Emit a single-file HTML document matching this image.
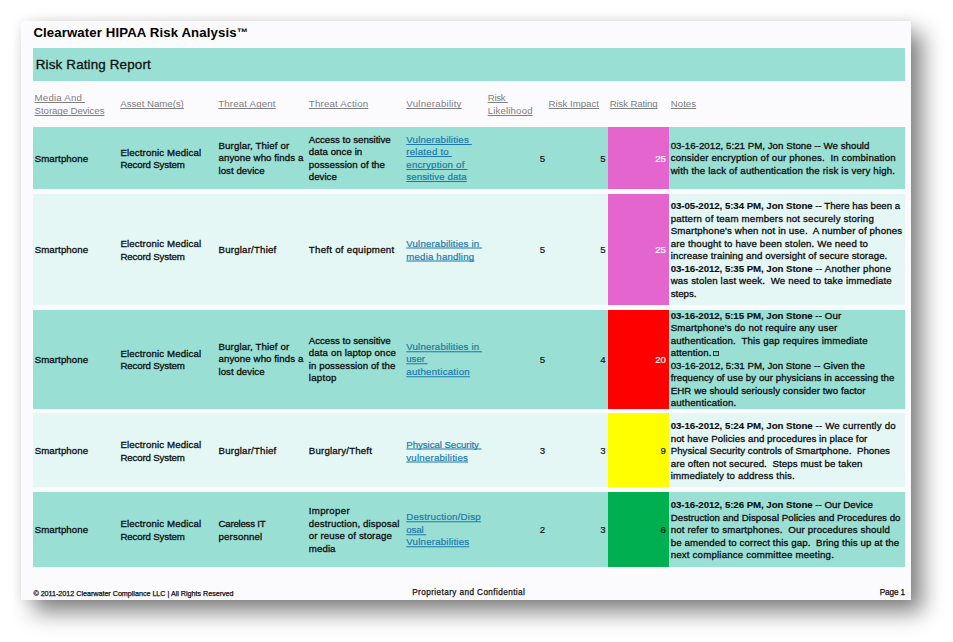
<!DOCTYPE html>
<html>
<head>
<meta charset="utf-8">
<title>Clearwater HIPAA Risk Analysis</title>
<style>
html,body{margin:0;padding:0;background:#fff;}
body{width:953px;height:642px;position:relative;overflow:hidden;font-family:"Liberation Sans",sans-serif;color:#0d0d0d;}
.abs{position:absolute;}
.ln{display:block;white-space:pre;}
#page{position:absolute;left:21.2px;top:20.5px;width:890px;height:579px;background:#fbfafd;box-shadow:11.5px 12px 21px rgba(0,0,0,.49), 0 0 10px rgba(0,0,0,.07);}
.title{left:33.4px;top:24.8px;font-size:13.2px;font-weight:bold;color:#000;line-height:15px;}
.banner{left:33.3px;top:48.3px;width:871.7px;height:32.6px;background:#9adfd4;}
.banner div{position:absolute;left:2.5px;top:8.6px;font-size:13.4px;line-height:16px;color:#101010;-webkit-text-stroke:0.3px #101010;}
.hd{font-size:9.7px;line-height:12.5px;color:#7f7f7f;}
.hd .ln{text-decoration:underline;text-decoration-skip-ink:none;text-underline-offset:1.0px;text-decoration-thickness:0.75px;}
.hd.h1{top:98.0px;}
.hd.h2{top:92.1px;}
.row{position:absolute;left:33.3px;width:871.7px;}
.row.d{background:#9adfd4;}
.row.l{background:#e4f7f5;}
.c{position:absolute;top:50%;margin-top:0.7px;transform:translateY(-50%);font-size:9.7px;line-height:12.5px;white-space:pre;color:#0d0d0d;-webkit-text-stroke:0.3px #0d0d0d;}
.c1{left:1.4px;}
.c2{left:87.1px;}
.c3{left:185.2px;}
.c4{left:275.5px;}
.c5{left:373.0px;}
.c5 a{color:#1b79ad;-webkit-text-stroke:0.2px #1b79ad;}
.c5 .ln{text-decoration:underline;text-decoration-skip-ink:none;text-underline-offset:1.4px;text-decoration-thickness:0.9px;}
.n1{right:359.9px;-webkit-text-stroke-width:0.15px;}
.n2{right:299.4px;-webkit-text-stroke-width:0.15px;}
.rate{position:absolute;left:574.5px;top:0;bottom:0;width:61.2px;}
.rate span{position:absolute;-webkit-text-stroke:0.2px currentColor;right:3.0px;top:50%;transform:translateY(-50%);margin-top:0.7px;font-size:9.7px;line-height:12.5px;}
.c9{left:637.4px;}
.tm{font-size:11px;letter-spacing:0;display:inline-block;vertical-align:top;margin-top:0.6px;}
b{font-weight:bold;-webkit-text-stroke:0.12px #0d0d0d;}
.qb{display:inline-block;width:4.2px;height:3.6px;border:0.7px solid #333;margin-left:1.2px;letter-spacing:0;vertical-align:baseline;box-sizing:content-box;font-size:4.4px;line-height:3.8px;text-align:center;font-style:normal;color:#444;-webkit-text-stroke:0;overflow:hidden;}
.foot{color:#111;line-height:10px;-webkit-text-stroke:0.25px #111;}
.copy{left:33.4px;top:588.6px;font-size:7.2px;}
.prop{left:412.2px;top:587.9px;font-size:8.2px;}
.pg{left:879.7px;top:588.0px;font-size:8.2px;}
</style>
</head>
<body>
<div id="page"></div>
<div class="abs title"><span class="ln" style="letter-spacing:0.123px">Clearwater HIPAA Risk Analysis<span class=tm>™</span></span></div>
<div class="abs banner"><div><span class="ln" style="letter-spacing:0.151px">Risk Rating Report</span></div></div>
<div class="abs hd h2" style="left:34.6px"><span class="ln" style="letter-spacing:0.192px">Media And </span><span class="ln" style="letter-spacing:-0.085px">Storage Devices</span></div>
<div class="abs hd h1" style="left:120.3px"><span class="ln" style="letter-spacing:-0.043px">Asset Name(s)</span></div>
<div class="abs hd h1" style="left:218.2px"><span class="ln" style="letter-spacing:0.168px">Threat Agent</span></div>
<div class="abs hd h1" style="left:308.8px"><span class="ln" style="letter-spacing:0.185px">Threat Action</span></div>
<div class="abs hd h1" style="left:406.3px"><span class="ln" style="letter-spacing:0.229px">Vulnerability</span></div>
<div class="abs hd h2" style="left:487.7px"><span class="ln" style="letter-spacing:-0.286px">Risk </span><span class="ln" style="letter-spacing:0.136px">Likelihood</span></div>
<div class="abs hd h1" style="left:548.6px"><span class="ln" style="letter-spacing:-0.019px">Risk Impact</span></div>
<div class="abs hd h1" style="left:609.8px"><span class="ln" style="letter-spacing:-0.176px">Risk Rating</span></div>
<div class="abs hd h1" style="left:670.8px"><span class="ln">Notes</span></div>
<div class="row d" style="top:127.3px;height:61.5px">
 <div class="c c1"><span class="ln" style="letter-spacing:0.072px">Smartphone</span></div>
 <div class="c c2"><span class="ln" style="letter-spacing:0.122px">Electronic Medical</span><span class="ln" style="letter-spacing:-0.148px">Record System</span></div>
 <div class="c c3"><span class="ln" style="letter-spacing:0.121px">Burglar, Thief or</span><span class="ln" style="letter-spacing:0.084px">anyone who finds a</span><span class="ln" style="letter-spacing:0.038px">lost device</span></div>
 <div class="c c4"><span class="ln" style="letter-spacing:-0.026px">Access to sensitive</span><span class="ln" style="letter-spacing:0.059px">data once in</span><span class="ln" style="letter-spacing:0.047px">possession of the</span><span class="ln">device</span></div>
 <div class="c c5"><a><span class="ln" style="letter-spacing:0.178px">Vulnerabilities </span><span class="ln" style="letter-spacing:0.228px">related to </span><span class="ln" style="letter-spacing:0.216px">encryption of </span><span class="ln" style="letter-spacing:0.082px">sensitive data</span></a></div>
 <div class="c n1">5</div><div class="c n2">5</div>
 <div class="rate" style="background:#e465ce;color:#fff"><span>25</span></div>
 <div class="c c9"><span class="ln" style="letter-spacing:0.031px">03-16-2012, 5:21 PM, Jon Stone -- We should</span><span class="ln" style="letter-spacing:0.161px">consider encryption of our phones.  In combination</span><span class="ln" style="letter-spacing:0.169px">with the lack of authentication the risk is very high.</span></div>
</div>
<div class="row l" style="top:193.5px;height:111.8px">
 <div class="c c1"><span class="ln" style="letter-spacing:0.072px">Smartphone</span></div>
 <div class="c c2"><span class="ln" style="letter-spacing:0.122px">Electronic Medical</span><span class="ln" style="letter-spacing:-0.148px">Record System</span></div>
 <div class="c c3"><span class="ln" style="letter-spacing:0.195px">Burglar/Thief</span></div>
 <div class="c c4"><span class="ln" style="letter-spacing:0.268px">Theft of equipment</span></div>
 <div class="c c5"><a><span class="ln" style="letter-spacing:0.154px">Vulnerabilities in </span><span class="ln" style="letter-spacing:0.163px">media handling</span></a></div>
 <div class="c n1">5</div><div class="c n2">5</div>
 <div class="rate" style="background:#e465ce;color:#fff"><span>25</span></div>
 <div class="c c9"><span class="ln"><b style="letter-spacing:-0.062px">03-05-2012, 5:34 PM, Jon Stone</b><span style="letter-spacing:-0.000px"> -- There has been a</span></span><span class="ln" style="letter-spacing:0.190px">pattern of team members not securely storing</span><span class="ln" style="letter-spacing:0.149px">Smartphone&#x27;s when not in use.  A number of phones</span><span class="ln" style="letter-spacing:0.150px">are thought to have been stolen. We need to</span><span class="ln" style="letter-spacing:0.091px">increase training and oversight of secure storage.</span><span class="ln"><b style="letter-spacing:-0.062px">03-16-2012, 5:35 PM, Jon Stone</b><span style="letter-spacing:0.213px"> -- Another phone</span></span><span class="ln" style="letter-spacing:0.134px">was stolen last week.  We need to take immediate</span><span class="ln" style="letter-spacing:-0.027px">steps.</span></div>
</div>
<div class="row d" style="top:309.8px;height:98.8px">
 <div class="c c1"><span class="ln" style="letter-spacing:0.072px">Smartphone</span></div>
 <div class="c c2"><span class="ln" style="letter-spacing:0.122px">Electronic Medical</span><span class="ln" style="letter-spacing:-0.148px">Record System</span></div>
 <div class="c c3"><span class="ln" style="letter-spacing:0.121px">Burglar, Thief or</span><span class="ln" style="letter-spacing:0.084px">anyone who finds a</span><span class="ln" style="letter-spacing:0.038px">lost device</span></div>
 <div class="c c4"><span class="ln" style="letter-spacing:-0.031px">Access to sensitive</span><span class="ln" style="letter-spacing:0.115px">data on laptop once</span><span class="ln" style="letter-spacing:0.053px">in possession of the</span><span class="ln" style="letter-spacing:0.249px">laptop</span></div>
 <div class="c c5"><a><span class="ln" style="letter-spacing:0.154px">Vulnerabilities in </span><span class="ln" style="letter-spacing:-0.069px">user </span><span class="ln" style="letter-spacing:0.234px">authentication</span></a></div>
 <div class="c n1">5</div><div class="c n2">4</div>
 <div class="rate" style="background:#ff0000;color:#fff"><span>20</span></div>
 <div class="c c9"><span class="ln"><b style="letter-spacing:-0.062px">03-16-2012, 5:15 PM, Jon Stone</b><span style="letter-spacing:0.088px"> -- Our</span></span><span class="ln" style="letter-spacing:0.133px">Smartphone&#x27;s do not require any user</span><span class="ln" style="letter-spacing:0.149px">authentication.  This gap requires immediate</span><span class="ln" style="letter-spacing:0.104px">attention.<i class="qb">?</i></span><span class="ln" style="letter-spacing:0.018px">03-16-2012, 5:31 PM, Jon Stone -- Given the</span><span class="ln" style="letter-spacing:0.048px">frequency of use by our physicians in accessing the</span><span class="ln" style="letter-spacing:0.075px">EHR we should seriously consider two factor</span><span class="ln" style="letter-spacing:0.185px">authentication.</span></div>
</div>
<div class="row l" style="top:413.4px;height:74.0px">
 <div class="c c1"><span class="ln" style="letter-spacing:0.072px">Smartphone</span></div>
 <div class="c c2"><span class="ln" style="letter-spacing:0.122px">Electronic Medical</span><span class="ln" style="letter-spacing:-0.148px">Record System</span></div>
 <div class="c c3"><span class="ln" style="letter-spacing:0.195px">Burglar/Thief</span></div>
 <div class="c c4"><span class="ln" style="letter-spacing:0.175px">Burglary/Theft</span></div>
 <div class="c c5"><a><span class="ln" style="letter-spacing:-0.070px">Physical Security </span><span class="ln" style="letter-spacing:0.206px">vulnerabilities</span></a></div>
 <div class="c n1">3</div><div class="c n2">3</div>
 <div class="rate" style="background:#ffff00;color:#111"><span>9</span></div>
 <div class="c c9"><span class="ln"><b style="letter-spacing:-0.062px">03-16-2012, 5:24 PM, Jon Stone</b><span style="letter-spacing:0.195px"> -- We currently do</span></span><span class="ln" style="letter-spacing:0.075px">not have Policies and procedures in place for</span><span class="ln" style="letter-spacing:0.036px">Physical Security controls of Smartphone.  Phones</span><span class="ln" style="letter-spacing:0.089px">are often not secured.  Steps must be taken</span><span class="ln" style="letter-spacing:0.144px">immediately to address this.</span></div>
</div>
<div class="row d" style="top:492.4px;height:74.3px">
 <div class="c c1"><span class="ln" style="letter-spacing:0.072px">Smartphone</span></div>
 <div class="c c2"><span class="ln" style="letter-spacing:0.122px">Electronic Medical</span><span class="ln" style="letter-spacing:-0.148px">Record System</span></div>
 <div class="c c3"><span class="ln" style="letter-spacing:-0.239px">Careless IT</span><span class="ln" style="letter-spacing:0.137px">personnel</span></div>
 <div class="c c4"><span class="ln" style="letter-spacing:0.292px">Improper</span><span class="ln" style="letter-spacing:0.113px">destruction, disposal</span><span class="ln" style="letter-spacing:0.093px">or reuse of storage</span><span class="ln" style="letter-spacing:0.082px">media</span></div>
 <div class="c c5"><a><span class="ln" style="letter-spacing:0.220px">Destruction/Disp</span><span class="ln" style="letter-spacing:-0.134px">osal </span><span class="ln" style="letter-spacing:0.203px">Vulnerabilities</span></a></div>
 <div class="c n1">2</div><div class="c n2">3</div>
 <div class="rate" style="background:#00b050;color:#111"><span>6</span></div>
 <div class="c c9"><span class="ln"><b style="letter-spacing:-0.062px">03-16-2012, 5:26 PM, Jon Stone</b><span style="letter-spacing:0.007px"> -- Our Device</span></span><span class="ln" style="letter-spacing:0.029px">Destruction and Disposal Policies and Procedures do</span><span class="ln" style="letter-spacing:0.149px">not refer to smartphones.  Our procedures should</span><span class="ln" style="letter-spacing:0.115px">be amended to correct this gap.  Bring this up at the</span><span class="ln" style="letter-spacing:0.181px">next compliance committee meeting.</span></div>
</div>
<div class="abs foot copy"><span class="ln" style="letter-spacing:-0.024px">© 2011-2012 Clearwater Compliance LLC | All Rights Reserved</span></div>
<div class="abs foot prop"><span class="ln" style="letter-spacing:0.414px">Proprietary and Confidential</span></div>
<div class="abs foot pg"><span class="ln" style="letter-spacing:-0.109px">Page 1</span></div>
</body>
</html>
